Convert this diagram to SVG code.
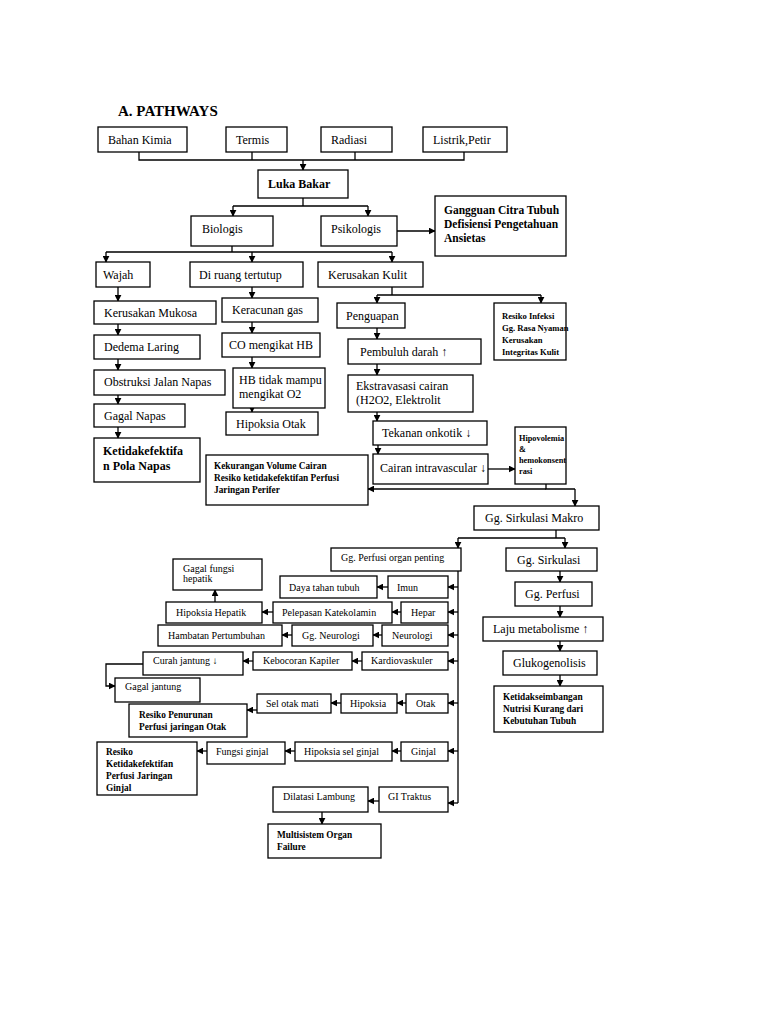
<svg xmlns="http://www.w3.org/2000/svg" width="768" height="1024" viewBox="0 0 768 1024">
<style>
rect{fill:#fff;stroke:#000;stroke-width:1.3}
text{font-family:"Liberation Serif","Times New Roman",serif;fill:#000;font-size:12px}
.s{font-size:10px}
.b{font-weight:bold}
.g{font-weight:bold;font-size:11.5px}
.bs{font-weight:bold;font-size:9.3px}
#c path{fill:none;stroke:#000;stroke-width:1.3}
#c .m{marker-end:url(#a)}
</style>
<defs><marker id="a" viewBox="0 0 10 10" refX="9" refY="5" markerWidth="7" markerHeight="7" markerUnits="userSpaceOnUse" orient="auto"><path d="M0,0L10,5L0,10z" fill="#000"/></marker></defs>
<rect width="768" height="1024" style="stroke:none"/>
<text x="118" y="116" class="b" style="font-size:15px">A.  PATHWAYS</text>
<g id="c">
<path d="M139,152V160H464V152M252,152V160M355,152V160"/>
<path class="m" d="M303,160V170"/>
<path d="M303,198V206H233M303,206H368"/>
<path class="m" d="M233,206V216"/>
<path class="m" d="M368,206V216"/>
<path class="m" d="M397,231H435"/>
<path d="M232,246V252H106M232,252H392"/>
<path class="m" d="M106,252V262"/>
<path class="m" d="M252,252V262"/>
<path class="m" d="M392,252V262"/>
<path class="m" d="M118,287V301"/>
<path class="m" d="M118,324V335"/>
<path class="m" d="M118,359V370"/>
<path class="m" d="M118,395V404"/>
<path class="m" d="M118,427V438"/>
<path class="m" d="M252,287V298"/>
<path class="m" d="M252,322V333"/>
<path class="m" d="M252,357V368"/>
<path class="m" d="M252,408V412"/>
<path d="M392,287V295H377M392,295H541"/>
<path class="m" d="M377,295V303"/>
<path class="m" d="M541,295V303"/>
<path class="m" d="M377,328V339"/>
<path class="m" d="M377,364V375"/>
<path class="m" d="M377,412V421"/>
<path class="m" d="M378,445V454"/>
<path class="m" d="M488,469H515"/>
<path d="M546,484V489H575"/>
<path class="m" d="M546,489H368"/>
<path class="m" d="M575,489V506"/>
<path d="M556,530V538H458M556,538H565"/>
<path class="m" d="M458,538V548"/>
<path class="m" d="M565,538V548"/>
<path class="m" d="M560,571V582"/>
<path class="m" d="M560,606V617"/>
<path class="m" d="M560,641V651"/>
<path class="m" d="M560,675V686"/>
<path d="M458,571V803"/>
<path class="m" d="M458,587H448"/>
<path class="m" d="M458,612H448"/>
<path class="m" d="M458,635H448"/>
<path class="m" d="M458,661H448"/>
<path class="m" d="M458,703H448"/>
<path class="m" d="M458,751H448"/>
<path class="m" d="M458,803H448"/>
<path class="m" d="M388,587H377"/>
<path class="m" d="M401,612H392"/>
<path class="m" d="M382,635H373"/>
<path class="m" d="M362,661H352"/>
<path class="m" d="M406,703H397"/>
<path class="m" d="M341,703H331"/>
<path class="m" d="M401,751H392"/>
<path class="m" d="M295,751H285"/>
<path class="m" d="M207,751H197"/>
<path class="m" d="M379,801H368"/>
<path class="m" d="M273,612H262"/>
<path class="m" d="M292,635H282"/>
<path class="m" d="M253,661H243"/>
<path class="m" d="M257,710H247"/>
<path class="m" d="M215,602V590"/>
<path class="m" d="M143,664H106V686H115"/>
<path class="m" d="M322,812V824"/>
</g>
<g id="n1"><rect x="98" y="127" width="89" height="25"/><text x="108" y="144">Bahan Kimia</text></g>
<g id="n2"><rect x="226" y="127" width="61" height="25"/><text x="236" y="144">Termis</text></g>
<g id="n3"><rect x="321" y="127" width="71" height="25"/><text x="331" y="144">Radiasi</text></g>
<g id="n4"><rect x="423" y="127" width="84" height="25"/><text x="433" y="144">Listrik,Petir</text></g>
<g id="n5"><rect x="258" y="170" width="90" height="28"/><text x="268" y="188" class="b">Luka Bakar</text></g>
<g id="n6"><rect x="191" y="216" width="82" height="30"/><text x="202" y="233">Biologis</text></g>
<g id="n7"><rect x="321" y="216" width="76" height="30"/><text x="331" y="233">Psikologis</text></g>
<g id="n8"><rect x="435" y="196" width="131" height="60"/><text x="444" y="214" class="g">Gangguan Citra Tubuh</text><text x="444" y="228" class="g">Defisiensi Pengetahuan</text><text x="444" y="242" class="g">Ansietas</text></g>
<g id="n9"><rect x="96" y="262" width="54" height="25"/><text x="103" y="279">Wajah</text></g>
<g id="n10"><rect x="190" y="262" width="113" height="25"/><text x="199" y="279">Di ruang tertutup</text></g>
<g id="n11"><rect x="318" y="262" width="105" height="25"/><text x="328" y="279">Kerusakan Kulit</text></g>
<g id="n12"><rect x="94" y="301" width="122" height="23"/><text x="104" y="317">Kerusakan Mukosa</text></g>
<g id="n13"><rect x="94" y="335" width="106" height="24"/><text x="104" y="351">Dedema Laring</text></g>
<g id="n14"><rect x="94" y="370" width="131" height="25"/><text x="104" y="386">Obstruksi Jalan Napas</text></g>
<g id="n15"><rect x="94" y="404" width="91" height="23"/><text x="104" y="420">Gagal Napas</text></g>
<g id="n16"><rect x="94" y="438" width="106" height="44"/><text x="103" y="455" class="b">Ketidakefektifa</text><text x="103" y="470" class="b">n Pola Napas</text></g>
<g id="n17"><rect x="222" y="298" width="96" height="24"/><text x="232" y="314">Keracunan gas</text></g>
<g id="n18"><rect x="222" y="333" width="98" height="24"/><text x="229" y="349">CO mengikat HB</text></g>
<g id="n19"><rect x="233" y="368" width="92" height="40"/><text x="239" y="384">HB tidak mampu</text><text x="239" y="398">mengikat O2</text></g>
<g id="n20"><rect x="226" y="412" width="92" height="23"/><text x="236" y="428">Hipoksia Otak</text></g>
<g id="n21"><rect x="337" y="303" width="68" height="25"/><text x="346" y="320">Penguapan</text></g>
<g id="n22"><rect x="494" y="303" width="72" height="57"/><text x="502" y="319" class="bs" style="font-size:8.6px">Resiko Infeksi</text><text x="502" y="331" class="bs" style="font-size:8.6px">Gg. Rasa Nyaman</text><text x="502" y="343" class="bs" style="font-size:8.6px">Kerusakan</text><text x="502" y="355" class="bs" style="font-size:8.6px">Integritas Kulit</text></g>
<g id="n23"><rect x="348" y="339" width="133" height="25"/><text x="360" y="356">Pembuluh darah ↑</text></g>
<g id="n24"><rect x="348" y="375" width="125" height="37"/><text x="356" y="390">Ekstravasasi cairan</text><text x="356" y="404">(H2O2, Elektrolit</text></g>
<g id="n25"><rect x="373" y="421" width="114" height="24"/><text x="382" y="437">Tekanan onkotik ↓</text></g>
<g id="n26"><rect x="373" y="454" width="115" height="30"/><text x="380" y="472">Cairan intravascular ↓</text></g>
<g id="n27"><rect x="515" y="427" width="51" height="57"/><text x="519" y="441" class="bs" style="font-size:8.3px">Hipovolemia</text><text x="519" y="452" class="bs" style="font-size:8.3px">&amp;</text><text x="519" y="463" class="bs" style="font-size:8.3px">hemokonsent</text><text x="519" y="474" class="bs" style="font-size:8.3px">rasi</text></g>
<g id="n28"><rect x="206" y="455" width="162" height="50"/><text x="214" y="469" class="bs">Kekurangan Volume Cairan</text><text x="214" y="481" class="bs">Resiko ketidakefektifan Perfusi</text><text x="214" y="493" class="bs">Jaringan Perifer</text></g>
<g id="n29"><rect x="474" y="506" width="125" height="24"/><text x="485" y="522">Gg. Sirkulasi Makro</text></g>
<g id="n30"><rect x="331" y="548" width="130" height="23"/><text x="341" y="561" class="s">Gg. Perfusi organ penting</text></g>
<g id="n31"><rect x="506" y="548" width="91" height="23"/><text x="517" y="564">Gg. Sirkulasi</text></g>
<g id="n32"><rect x="515" y="582" width="77" height="24"/><text x="525" y="598">Gg. Perfusi</text></g>
<g id="n33"><rect x="483" y="617" width="120" height="24"/><text x="493" y="633">Laju metabolisme  ↑</text></g>
<g id="n34"><rect x="503" y="651" width="94" height="24"/><text x="513" y="667">Glukogenolisis</text></g>
<g id="n35"><rect x="494" y="686" width="109" height="46"/><text x="503" y="700" class="bs">Ketidakseimbangan</text><text x="503" y="712" class="bs">Nutrisi Kurang dari</text><text x="503" y="724" class="bs">Kebutuhan Tubuh</text></g>
<g id="n36"><rect x="388" y="576" width="60" height="22"/><text x="397" y="591" class="s">Imun</text></g>
<g id="n37"><rect x="280" y="576" width="97" height="22"/><text x="289" y="591" class="s">Daya tahan tubuh</text></g>
<g id="n38"><rect x="173" y="559" width="89" height="31"/><text x="183" y="572" class="s">Gagal fungsi</text><text x="183" y="582" class="s">hepatik</text></g>
<g id="n39"><rect x="401" y="602" width="47" height="21"/><text x="411" y="616" class="s">Hepar</text></g>
<g id="n40"><rect x="273" y="602" width="119" height="21"/><text x="282" y="616" class="s">Pelepasan Katekolamin</text></g>
<g id="n41"><rect x="166" y="602" width="96" height="21"/><text x="176" y="616" class="s">Hipoksia Hepatik</text></g>
<g id="n42"><rect x="382" y="625" width="66" height="21"/><text x="392" y="639" class="s">Neurologi</text></g>
<g id="n43"><rect x="292" y="625" width="81" height="21"/><text x="302" y="639" class="s">Gg. Neurologi</text></g>
<g id="n44"><rect x="158" y="625" width="124" height="21"/><text x="168" y="639" class="s">Hambatan Pertumbuhan</text></g>
<g id="n45"><rect x="362" y="652" width="86" height="18"/><text x="371" y="664" class="s">Kardiovaskuler</text></g>
<g id="n46"><rect x="253" y="652" width="99" height="18"/><text x="263" y="664" class="s">Kebocoran Kapiler</text></g>
<g id="n47"><rect x="143" y="652" width="100" height="23"/><text x="153" y="664" class="s">Curah jantung ↓</text></g>
<g id="n48"><rect x="115" y="678" width="85" height="24"/><text x="125" y="690" class="s">Gagal jantung</text></g>
<g id="n49"><rect x="406" y="694" width="42" height="19"/><text x="416" y="707" class="s">Otak</text></g>
<g id="n50"><rect x="341" y="694" width="56" height="19"/><text x="350" y="707" class="s">Hipoksia</text></g>
<g id="n51"><rect x="257" y="694" width="74" height="19"/><text x="266" y="707" class="s">Sel otak mati</text></g>
<g id="n52"><rect x="129" y="704" width="118" height="33"/><text x="139" y="718" class="bs">Resiko Penurunan</text><text x="139" y="730" class="bs">Perfusi jaringan Otak</text></g>
<g id="n53"><rect x="401" y="742" width="47" height="19"/><text x="411" y="755" class="s">Ginjal</text></g>
<g id="n54"><rect x="295" y="742" width="97" height="19"/><text x="304" y="755" class="s">Hipoksia sel ginjal</text></g>
<g id="n55"><rect x="207" y="742" width="78" height="22"/><text x="216" y="755" class="s">Fungsi ginjal</text></g>
<g id="n56"><rect x="97" y="742" width="100" height="53"/><text x="106" y="755" class="bs">Resiko</text><text x="106" y="767" class="bs">Ketidakefektifan</text><text x="106" y="779" class="bs">Perfusi Jaringan</text><text x="106" y="791" class="bs">Ginjal</text></g>
<g id="n57"><rect x="379" y="787" width="69" height="25"/><text x="388" y="800" class="s">GI Traktus</text></g>
<g id="n58"><rect x="273" y="787" width="95" height="25"/><text x="283" y="800" class="s">Dilatasi Lambung</text></g>
<g id="n59"><rect x="268" y="824" width="113" height="34"/><text x="277" y="838" class="bs">Multisistem Organ</text><text x="277" y="850" class="bs">Failure</text></g>
</svg>
